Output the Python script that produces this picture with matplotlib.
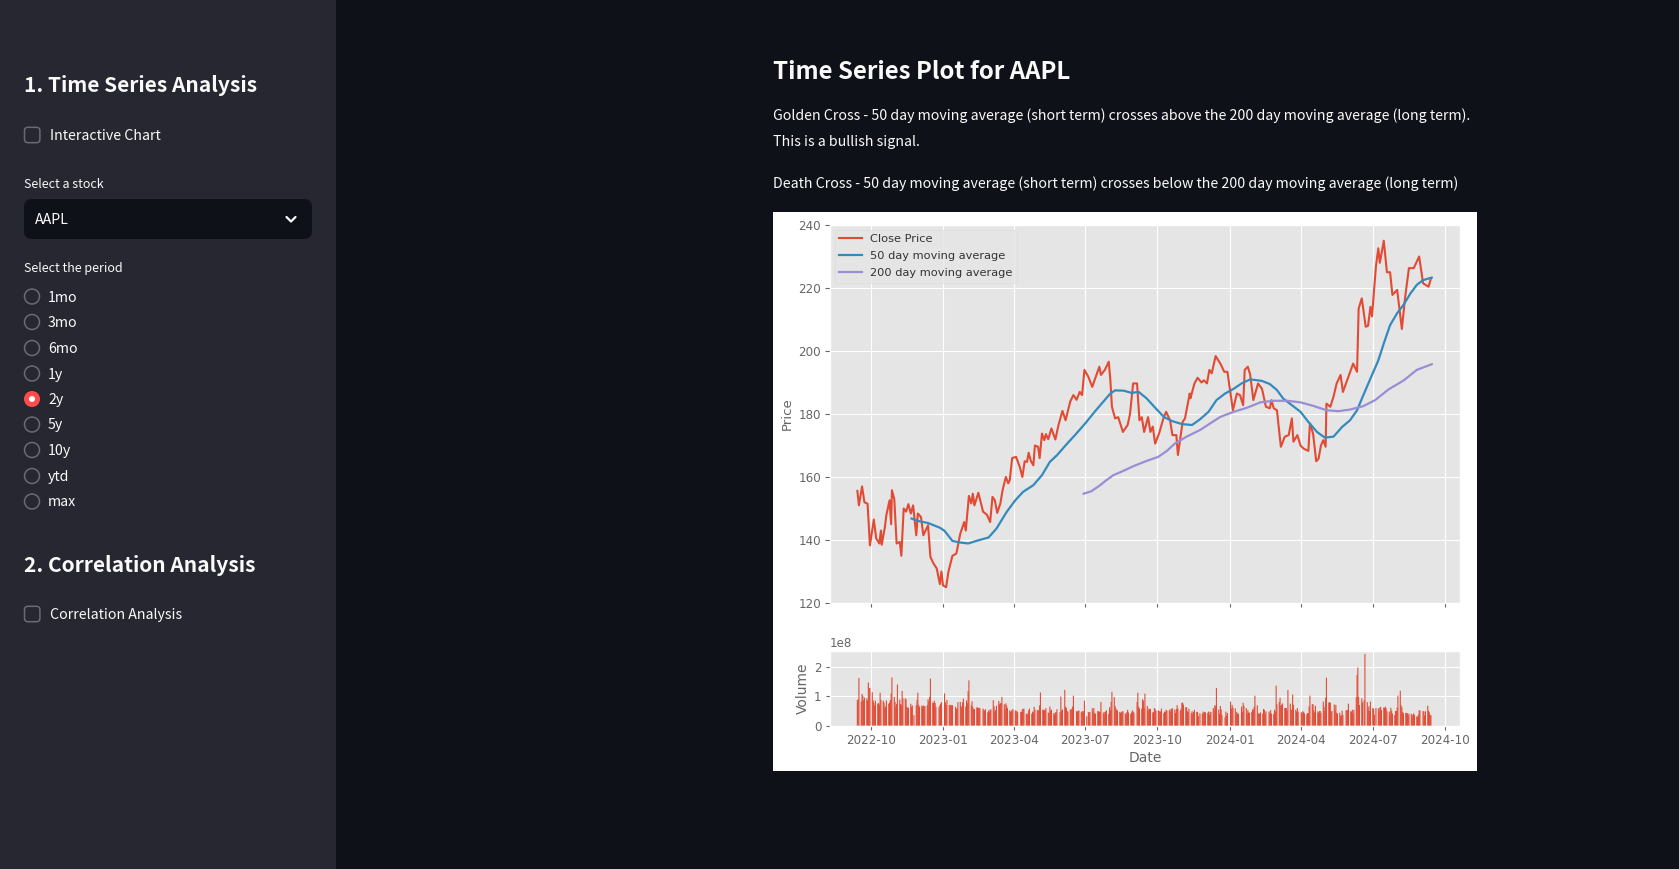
import matplotlib
matplotlib.use('Agg')
import matplotlib.pyplot as plt
from matplotlib.patches import FancyBboxPatch, Circle, Rectangle
import numpy as np
import pandas as pd

W, H = 1679, 869
UI_FONT = ['Noto Sans CJK SC', 'DejaVu Sans']

# day numbers count from this date
origin = pd.Timestamp('2022-10-01')

close_day = [-17, -15, -11, -8, -4, -1, 4, 7, 11, 13, 14, 18, 20, 24, 26, 27, 30, 33, 37, 39, 42, 45, 48, 51, 54, 58, 60, 64, 67, 73,
             76, 80, 84, 88, 90, 92, 96, 99, 104, 109, 114, 119, 121, 125, 128, 130, 132, 137, 143, 148, 152, 155, 158, 161, 165, 168, 172, 175, 177, 180,
             185, 190, 193, 196, 199, 201, 204, 207, 209, 213, 215, 218, 221, 223, 226, 230, 235, 239, 244, 248, 254, 258, 262, 266, 269, 272, 277, 282, 285, 291,
             293, 298, 303, 305, 307, 311, 315, 321, 327, 330, 334, 339, 342, 345, 348, 353, 356, 359, 362, 367, 373, 376, 381, 384, 389, 391, 397, 400, 406, 407,
             412, 416, 421, 424, 428, 431, 434, 439, 445, 450, 454, 461, 466, 470, 474, 476, 480, 483, 487, 493, 498, 503, 508, 510, 513, 517, 522, 527, 532, 536,
             538, 543, 547, 551, 557, 559, 563, 567, 570, 573, 576, 579, 580, 585, 589, 593, 598, 601, 606, 614, 619, 621, 625, 630, 633, 636, 638, 643, 646, 648,
             653, 657, 661, 664, 670, 676, 680, 685, 691, 693, 698, 703, 710, 713]
close_price = [155.6, 151, 157, 152, 151.5, 138.3, 146.5, 140.5, 138.9, 143, 138.5, 144, 148, 152.6, 145, 155.8, 153, 138.9, 139.4, 135, 150, 149, 151.4, 148.4, 151, 141.5, 148.4, 147.3, 141.5, 144.7,
               134.6, 132.5, 131, 126, 130, 125.6, 125, 130, 135, 135.7, 142, 145.7, 143, 154, 151.6, 154.7, 151, 155, 149, 148, 145.7, 153.7, 152.6, 148.6, 151.6, 156, 160, 158, 159, 166,
               166.4, 163, 160, 165, 164.8, 167.7, 165, 163.7, 170, 169.6, 166, 173.8, 171.7, 173.6, 172, 175.4, 171.9, 176.5, 181, 178, 184, 186, 184.5, 187, 186, 194, 191.8, 188.6, 190.8, 195,
               192.4, 194, 196.6, 190.8, 182.3, 178.6, 179, 174.3, 176.5, 180, 189.7, 189.7, 178, 179, 174.3, 179, 174.3, 176, 170.6, 173.8, 179, 180.7, 178, 173.3, 173.3, 167, 177.5, 178.6, 186.5, 185,
               189.7, 191.5, 190, 190.7, 189.7, 194, 192.9, 198.4, 196, 193.4, 193.4, 181.2, 186.5, 186, 182.8, 194, 195, 192.4, 184.4, 189.7, 188, 182.3, 181.8, 184.4, 181.8, 181.2, 169.6, 172.8, 173.3, 178.6,
               171.2, 173.3, 170, 169, 168.3, 177, 173.8, 165, 165.8, 170, 171.7, 169.6, 183.3, 182.3, 185.5, 189.7, 192.4, 187, 190.5, 196, 193.4, 213.5, 216.7, 207.7, 208, 214, 211, 226.8, 232.6, 228,
               235, 225, 225, 217.8, 219.4, 207, 216.7, 226.3, 226.3, 227.3, 230, 221.5, 220.4, 223]

ma50_day = [52, 61, 73, 88, 94, 104, 114, 124, 137, 150, 160, 173, 184, 194, 207, 218, 228, 237, 250, 260, 273, 285, 296, 305, 311, 322,
            332, 341, 351, 362, 373, 383, 396, 409, 419, 430, 440, 451, 462, 472, 483, 498, 508, 517, 525, 536, 547, 557, 568, 578, 589, 600, 610, 619, 627, 638,
            646, 653, 661, 670, 678, 687, 695, 703, 714]
ma50 = [146.8, 146, 145.4, 143.9, 142.9, 139.7, 139.2, 138.9, 139.9, 140.8, 143.6, 148.9, 152.6, 155.3, 157.4, 160.6, 164.8, 166.9, 170.6, 173.3, 177, 180.7, 183.9, 186.5, 187.5, 187.4,
        186.7, 187, 185, 182, 179.1, 177.8, 176.8, 176.5, 178.3, 180.7, 184.4, 186.5, 188, 189.7, 191, 190.5, 189.5, 187.6, 184.9, 182.8, 180.7, 177.5, 174.3, 172.5, 172.8, 175.9, 178, 181.2, 186, 192.4,
        197, 202.4, 208.2, 212, 214.6, 218.3, 221, 222.5, 223.3]

ma200_day = [271, 281, 292, 300, 309, 322, 334, 351, 366, 377, 387, 402, 419, 432, 445, 462, 479, 496, 513, 530, 547, 563, 580, 595, 610, 627, 642, 659, 678, 695, 714]
ma200 = [154.7, 155.5, 157.4, 159, 160.6, 162, 163.4, 165.1, 166.4, 168.3, 170.6, 172.8, 174.9, 177, 179.1, 180.7, 182, 183.7, 184.2, 184.2, 183.7, 182.6, 181.2, 180.9, 181.4, 182.5, 184.4, 187.8, 190.6, 194, 195.8]

# volume per business day in 1e8, one row per week
volume = [
    .87, .90, 1.62,
    .82, 1.08, 1.02, .86, .96,
    .93, .85, 1.47, 1.28, 1.28,
    1.14, .87, .79, .69, .85,
    .75, .77, .71, 1.12, .88,
    .85, .79, .62, .65, .86,
    .75, .79, .88, 1.09, 1.64,
    .98, .81, .65, .74, 1.40,
    .89, .74, .70, 1.18, .93,
    .93, .90, .64, .61, .61,
    .75, .64, .69, 0, .36,
    .70, .88, 1.12, .71, .65,
    .68, .65, .69, .67, .66,
    .70, .90, .82, .98, 1.60,
    .79, .77, .85, .77, .64,
    0, .63, .69, .75, .80,
    0, 1.10, .80, .70, .87,
    .70, .71, .70, .69, .70,
    0, .64, .58, .58, .80,
    .81, .66, .65, .80, .92,
    .65, .86, .77, 1.18, 1.54,
    .69, .83, .64, .56, .57,
    .62, .62, .61, .59, .60,
    0, .58, .54, .51, .56,
    .45, .52, .48, .55, .55,
    .87, .66, .48, .53, .68,
    .84, .73, .77, .75, .98,
    .73, .55, .76, .69, .60,
    .52, .46, .52, .49, .57,
    .52, .46, .51, .46, 0,
    .47, .47, .56, .57, .58,
    .41, .38, .41, .52, .58,
    .41, .48, .45, .64, .55,
    .53, .52, .54, .69, 1.13,
    .55, .52, .54, .52, .60,
    .45, .42, .65, .51, .55,
    .43, .38, .45, .46, .56,
    0, .46, .99, .52, .55,
    1.22, .64, .61, .50, .48,
    .55, .54, .58, .65, 1.02,
    0, .49, .49, .50, .52,
    .46, .49, .49, .49, .85,
    .32, 0, .46, .47, .46,
    .59, .48, .60, .42, .41,
    .50, .48, .48, .47, .81,
    .45, .37, .47, .48, .52,
    .40, .63, .54, .81, 1.15,
    .97, .68, .60, .54, .52,
    .47, .43, .46, .49, .49,
    .42, .37, .46, .54, .45,
    .40, .45, .52, .48, .45,
    0, .81, 1.12, .65, .58,
    .58, .90, .85, .60, 1.09,
    .67, .51, .58, .57, .57,
    .45, .46, .60, .56, .51,
    .52, .50, .49, .48, .58,
    .42, .48, .47, .54, .51,
    .52, .56, .48, .58, .59,
    .55, .43, .57, .70, .58,
    .51, .57, .77, .79, .72,
    .63, .63, .49, .46, .58,
    .43, .49, .40, .47, .54,
    .47, .47, .32, 0, .42,
    .40, .48, .43, .47, .45,
    .44, .48, .37, .47, .47,
    .60, .53, .70, .66, 1.28,
    .55, .41, .67, .56, .37,
    0, .28, .48, .34, .43,
    0, .82, .58, .71, .62,
    .59, .42, .47, .41, .41,
    0, .65, .47, .78, .68,
    .60, .42, .53, .45, .44,
    .47, .55, .55, .64, 1.02,
    .69, .43, .41, .41, .45,
    .41, .57, .54, .40, .49,
    0, .48, .41, .53, .41,
    .40, .54, .48, 1.36, .73,
    .81, .95, .68, .71, .76,
    .60, .60, .60, .51, 1.21,
    .75, .55, .53, 1.06, .71,
    .54, .48, .60, .48, 0,
    .46, .43, .49, .47, .42,
    .38, .43, .43, .66, 1.02,
    .73, .73, .53, .45, .68,
    .48, .44, .50, .50, .44,
    .82, .65, .50, .95, 1.63,
    .79, .79, .78, .48, .50,
    .72, .52, .71, .44, .41,
    .44, .34, .34, .51, .37,
    0, .52, .53, .54, .75,
    .50, .47, .54, .41, .54,
    .97, 1.72, 1.98, .98, .70,
    .93, .79, 0, .86, 2.44,
    .80, .56, .66, .50, .82,
    .60, .58, .37, 0, .60,
    .59, .48, .62, .64, .53,
    .62, .60, .65, .59, .49,
    .48, .39, .61, .51, .41,
    .36, .50, .50, .62, 1.02,
    1.19, .70, .63, .47, .42,
    .44, .42, .43, .35, .41,
    .40, .31, .38, .42, .37,
    .31, .31, .38, .52, .52,
    0, .50, .48, .35, .49,
    .68, .51, .45, .36, .36,
]

tick_months = ['2022-10', '2023-01', '2023-04', '2023-07', '2023-10', '2024-01', '2024-04', '2024-07', '2024-10']
price_ticks = [120, 140, 160, 180, 200, 220, 240]
volume_ticks = [0, 1, 2]
periods = ['1mo', '3mo', '6mo', '1y', '2y', '5y', '10y', 'ytd', 'max']
selected_period = '2y'
radio_y = [296.5, 322, 348, 373.5, 399, 424.5, 450, 476, 501.5]

plt.style.use('ggplot')
fig = plt.figure(figsize=(W / 100, H / 100), dpi=100, facecolor='#0E1117')

# page layer in pixels
page = fig.add_axes([0, 0, 1, 1])
page.set_xlim(0, W)
page.set_ylim(H, 0)
page.axis('off')
page.set_facecolor('#0E1117')


def label(x, y, s, size=10.22, weight='normal', color='#FAFAFA'):
    page.text(x, y, s, fontsize=size, fontweight=weight, color=color, family=UI_FONT, ha='left', va='center')


def checkbox(y):
    page.add_patch(FancyBboxPatch((24.5, y - 7.7), 15.4, 15.4, boxstyle='round,pad=0,rounding_size=3.5',
                                  fc='#262730', ec='#696a73', lw=1.1))


page.add_patch(Rectangle((0, 0), 336, H, fc='#262730', ec='none'))
page.add_patch(Rectangle((773, 212), 704, 559, fc='white', ec='none'))

label(24, 85, '1. Time Series Analysis', size=15.05, weight='bold')
checkbox(135)
label(50, 136.5, 'Interactive Chart')
label(24.5, 184.5, 'Select a stock', size=9)
page.add_patch(FancyBboxPatch((24, 199), 288, 40, boxstyle='round,pad=0,rounding_size=8', fc='#0E1117', ec='none'))
label(35, 220.5, 'AAPL')
page.plot([286.5, 291, 295.5], [217, 221.5, 217], color='#FAFAFA', lw=1.6, solid_capstyle='round')
label(24.5, 268.5, 'Select the period', size=9)
for name, y in zip(periods, radio_y):
    if name == selected_period:
        page.add_patch(Circle((32, y), 8, fc='#FF4B4B', ec='none'))
        page.add_patch(Circle((32, y), 3, fc='white', ec='none'))
    else:
        page.add_patch(Circle((32, y), 7.5, fc='#262730', ec='#696a73', lw=1.1))
    label(48, y + 1, name)
label(24, 565, '2. Correlation Analysis', size=15.05, weight='bold')
checkbox(614)
label(50, 615.5, 'Correlation Analysis')

label(773, 72, 'Time Series Plot for AAPL', size=17.3, weight='bold')
label(773, 116, 'Golden Cross - 50 day moving average (short term) crosses above the 200 day moving average (long term).')
label(773, 142, 'This is a bullish signal.')
label(773, 184, 'Death Cross - 50 day moving average (short term) crosses below the 200 day moving average (long term)')


def to_dates(days):
    return origin + pd.to_timedelta(days, unit='D')


def axes_px(x0, y0, x1, y1):
    return fig.add_axes([x0 / W, 1 - y1 / H, (x1 - x0) / W, (y1 - y0) / H])


x_left = origin - pd.Timedelta(days=51.8)
x_right = origin + pd.Timedelta(days=750)
month_dates = pd.to_datetime(tick_months)
grey = '#666666'

ax1 = axes_px(830, 225, 1460, 603)
ax1.plot(to_dates(close_day), close_price, color='#E24A33', lw=1.5, label='Close Price', solid_joinstyle='round')
ax1.plot(to_dates(ma50_day), ma50, color='#348ABD', lw=1.6, label='50 day moving average', solid_joinstyle='round')
ax1.plot(to_dates(ma200_day), ma200, color='#988ED5', lw=1.6, label='200 day moving average', solid_joinstyle='round')
ax1.set_xlim(x_left, x_right)
ax1.set_ylim(120, 240)
ax1.set_xticks(month_dates)
ax1.set_xticklabels([])
ax1.set_yticks(price_ticks)
ax1.tick_params(axis='y', labelsize=8.6, length=3.5, pad=3, colors=grey)
ax1.tick_params(axis='x', length=3, colors=grey)
ax1.set_ylabel('Price', fontsize=9.6, color=grey, labelpad=3)
leg = ax1.legend(loc='upper left', fontsize=8.2, frameon=True, facecolor='#E5E5E5', edgecolor='#dcdcdc',
                 borderaxespad=0.4, handlelength=2.0, handletextpad=0.7, labelspacing=0.62)
for t in leg.get_texts():
    t.set_color('#333333')

vol_dates = pd.bdate_range('2022-09-14', '2024-09-13')
ax2 = axes_px(830, 651, 1460, 725.7)
ax2.bar(vol_dates[:len(volume)], np.array(volume) * 1e8, width=1.4, color='#E24A33', snap=False, lw=0)
ax2.set_xlim(x_left, x_right)
ax2.set_ylim(0, 2.54e8)
ax2.set_xticks(month_dates)
ax2.set_xticklabels(tick_months)
ax2.set_yticks([v * 1e8 for v in volume_ticks])
ax2.tick_params(axis='both', labelsize=8.6, length=3, pad=3, colors=grey)
ax2.yaxis.get_offset_text().set_fontsize(8.6)
ax2.yaxis.get_offset_text().set_color(grey)
ax2.set_ylabel('Volume', fontsize=10, color=grey, labelpad=3)
ax2.set_xlabel('Date', fontsize=10, color=grey, labelpad=3)

fig.savefig('out.png', dpi=100, facecolor=fig.get_facecolor())
